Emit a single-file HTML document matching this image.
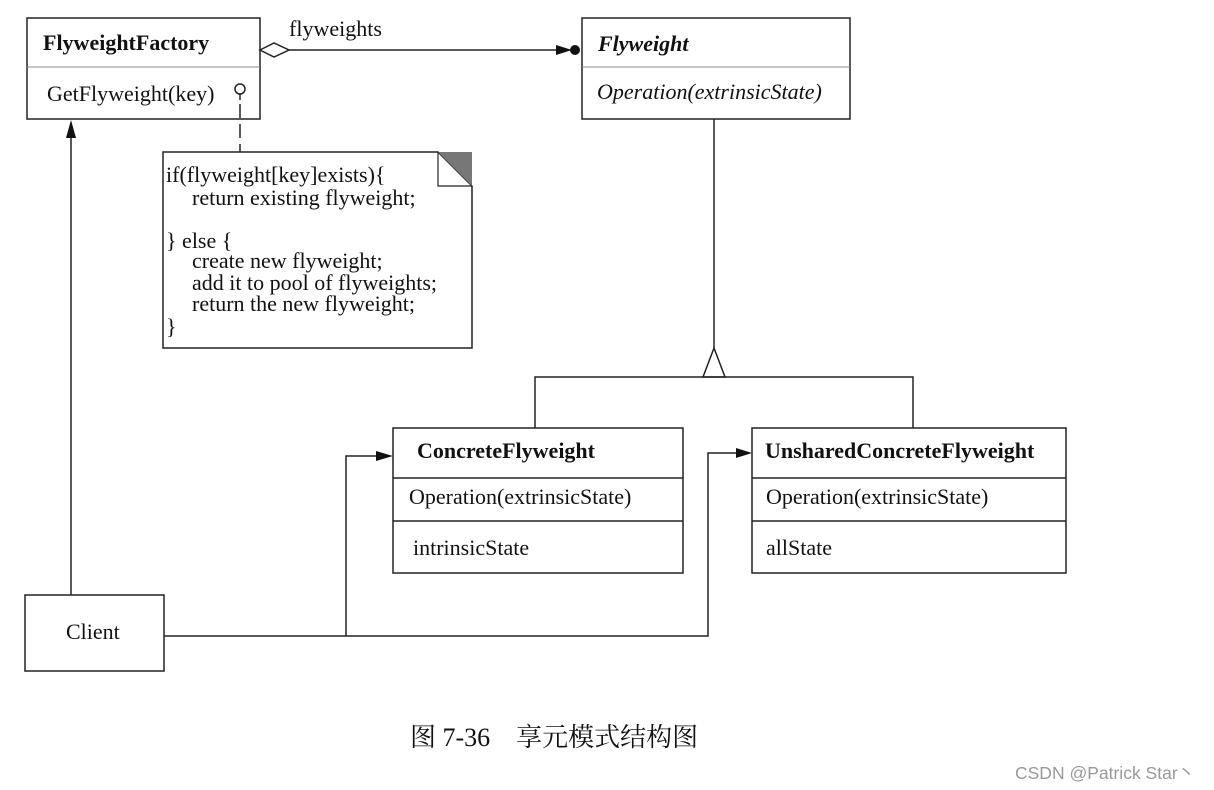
<!DOCTYPE html>
<html><head><meta charset="utf-8"><style>
html,body{margin:0;padding:0;background:#fff;}
svg{display:block;}
text{font-family:"Liberation Serif","Noto Serif CJK SC",serif;fill:#111;}
</style></head><body>
<svg width="1214" height="790" viewBox="0 0 1214 790" xmlns="http://www.w3.org/2000/svg">
<g fill="none" stroke="#222" stroke-width="1.5">
<rect x="27" y="18" width="233" height="101"/>
<line x1="27" y1="67" x2="260" y2="67" stroke="#888" stroke-width="1"/>
<circle cx="240" cy="89" r="5"/>
<line x1="240" y1="94" x2="240" y2="100"/>
<line x1="240" y1="104" x2="240" y2="152" stroke-dasharray="14,6"/>
<polygon points="260,50 274,43 289,50 274,57"/>
<line x1="289" y1="50" x2="556" y2="50"/>
<rect x="582" y="18" width="268" height="101"/>
<line x1="582" y1="67" x2="850" y2="67" stroke="#888" stroke-width="1"/>
<line x1="714" y1="119" x2="714" y2="348"/>
<polygon points="714,348 703,377 725,377"/>
<polyline points="535,428 535,377 913,377 913,428"/>
<rect x="393" y="428" width="290" height="145"/>
<line x1="393" y1="478" x2="683" y2="478"/>
<line x1="393" y1="521" x2="683" y2="521"/>
<rect x="752" y="428" width="314" height="145"/>
<line x1="752" y1="478" x2="1066" y2="478"/>
<line x1="752" y1="521" x2="1066" y2="521"/>
<polygon points="163,152 438,152 472,186 472,348 163,348"/>
<rect x="25" y="595" width="139" height="76"/>
<line x1="71" y1="595" x2="71" y2="136"/>
<polyline points="164,636 708,636 708,453 738,453"/>
<polyline points="346,636 346,456 378,456"/>
</g>
<polygon points="438,152 472,152 472,186" fill="#777"/>
<polyline points="438,152 438,186 472,186" fill="none" stroke="#222" stroke-width="1.2"/>
<g fill="#111">
<polygon points="556,45 572,50 556,55"/>
<circle cx="575" cy="50" r="5"/>
<polygon points="66,138 71,120 76,138"/>
<polygon points="376,451 393,456 376,461"/>
<polygon points="736,448 752,453 736,458"/>
</g>
<g font-size="22">
<text x="43" y="50" font-weight="bold">FlyweightFactory</text>
<text x="47" y="101">GetFlyweight(key)</text>
<text x="289" y="36">flyweights</text>
<text x="598" y="51" font-weight="bold" font-style="italic">Flyweight</text>
<text x="597" y="99" font-style="italic">Operation(extrinsicState)</text>
<text x="417" y="458" font-weight="bold">ConcreteFlyweight</text>
<text x="409" y="504">Operation(extrinsicState)</text>
<text x="413" y="555">intrinsicState</text>
<text x="765" y="458" font-weight="bold">UnsharedConcreteFlyweight</text>
<text x="766" y="504">Operation(extrinsicState)</text>
<text x="766" y="555">allState</text>
<text x="66" y="639">Client</text>
</g>
<g font-size="22">
<text x="166" y="182">if(flyweight[key]exists){</text>
<text x="192" y="205">return existing flyweight;</text>
<text x="166" y="248">} else {</text>
<text x="192" y="268">create new flyweight;</text>
<text x="192" y="290">add it to pool of flyweights;</text>
<text x="192" y="311">return the new flyweight;</text>
<text x="166" y="334">}</text>
</g>
<text x="410" y="746" font-size="26">图 7-36　享元模式结构图</text>
<text x="1015" y="779" font-size="17.5" style="font-family:'Liberation Sans','Noto Sans CJK SC',sans-serif;fill:#999">CSDN @Patrick Star丶</text>
</svg>
</body></html>
